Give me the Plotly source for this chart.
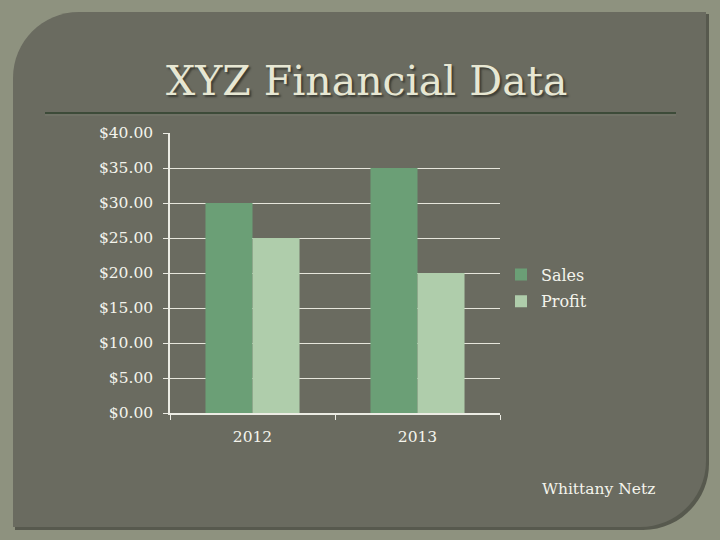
import plotly.graph_objects as go

# ---- data ----
categories = ["2012", "2013"]
sales = [30, 35]
profit = [25, 20]
tick_vals = [0, 5, 10, 15, 20, 25, 30, 35, 40]
tick_text = ["$0.00", "$5.00", "$10.00", "$15.00", "$20.00", "$25.00", "$30.00", "$35.00", "$40.00"]
title_text = "XYZ Financial Data"
author_text = "Whittany Netz"

W, H = 720, 540
FONT = "DejaVu Serif"
TXT = "#f4f4ec"

def px(x):
    return x / W

def py(y):
    return 1 - y / H

def panel_path(x0, y0, x1, y1, r):
    k = 0.5523 * r
    pts = [
        ("M", [(x0, y0 + r)]),
        ("C", [(x0, y0 + r - k), (x0 + r - k, y0), (x0 + r, y0)]),
        ("L", [(x1, y0)]),
        ("L", [(x1, y1 - r)]),
        ("C", [(x1, y1 - r + k), (x1 - r + k, y1), (x1 - r, y1)]),
        ("L", [(x0, y1)]),
    ]
    s = ""
    for cmd, ps in pts:
        s += cmd + " ".join(f"{px(a):.5f},{py(b):.5f}" for a, b in ps) + " "
    return s + "Z"

fig = go.Figure()
fig.add_trace(go.Bar(name="Sales", x=categories, y=sales, marker_color="#6b9f76",
                     marker_line_width=0, legendgroup="a"))
fig.add_trace(go.Bar(name="Profit", x=categories, y=profit, marker_color="#afcdab",
                     marker_line_width=0, legendgroup="b"))

shapes = [
    # panel shadow
    dict(type="path", xref="paper", yref="paper", path=panel_path(15, 14, 709, 530, 66),
         fillcolor="#57594e", line_width=0, layer="below"),
    # panel
    dict(type="path", xref="paper", yref="paper", path=panel_path(13, 12, 706, 527, 66),
         fillcolor="#6a6b60", line_width=0, layer="below"),
    # title rule
    dict(type="line", xref="paper", yref="paper", x0=px(45), x1=px(676), y0=py(113), y1=py(113),
         line=dict(color="#3d4b39", width=2), layer="below"),
    dict(type="line", xref="paper", yref="paper", x0=px(45), x1=px(676), y0=py(115), y1=py(115),
         line=dict(color="#767a6c", width=1), layer="below"),
]

annotations = [
    dict(text=title_text, xref="paper", yref="paper", x=px(164), y=py(81), xanchor="left",
         yanchor="middle", showarrow=False,
         font=dict(family=FONT, size=41, color="#e7e7d3", shadow="2px 2px 2px #3b3c34")),
    dict(text=author_text, xref="paper", yref="paper", x=px(598), y=py(489), xanchor="center",
         yanchor="middle", showarrow=False, font=dict(family=FONT, size=15.5, color=TXT)),
]

fig.update_layout(
    width=W, height=H, autosize=False,
    margin=dict(l=0, r=0, t=0, b=0, pad=0, autoexpand=False),
    paper_bgcolor="#8e927f",
    plot_bgcolor="rgba(0,0,0,0)",
    barmode="group",
    bargap=0.43,
    bargroupgap=0,
    shapes=shapes,
    annotations=annotations,
    showlegend=True,
    legend=dict(x=px(501), y=py(288), xanchor="left", yanchor="middle",
                bgcolor="rgba(0,0,0,0)", font=dict(family=FONT, size=16, color=TXT),
                itemwidth=30, tracegroupgap=3, traceorder="grouped"),
    font=dict(family=FONT, color=TXT),
    hovermode=False,
)

fig.update_xaxes(
    domain=[px(170), px(500)],
    automargin=False,
    showline=True, linecolor="#ecece4", linewidth=1.5,
    ticks="outside", tickson="boundaries", ticklen=5, tickcolor="#ecece4",
    tickfont=dict(family=FONT, size=15.5, color=TXT),
    ticklabelstandoff=9,
    showgrid=False,
)
fig.update_yaxes(
    domain=[py(413), py(133)],
    automargin=False,
    range=[0, 40],
    tickvals=tick_vals, ticktext=tick_text,
    showline=True, linecolor="#ecece4", linewidth=1.5,
    ticks="outside", ticklen=5, tickcolor="#ecece4",
    tickfont=dict(family=FONT, size=15.5, color=TXT),
    ticklabelstandoff=7,
    showgrid=True, gridcolor="#e6e6dc", gridwidth=1,
    zeroline=False,
)

fig.write_html("out.html", config={"displayModeBar": False})

# remove default page margin so the 720x540 figure fills the window exactly
with open("out.html", "r", encoding="utf-8") as f:
    html = f.read()
html = html.replace("<head>", "<head><style>html,body{margin:0;padding:0;overflow:hidden;}</style>", 1)
with open("out.html", "w", encoding="utf-8") as f:
    f.write(html)
